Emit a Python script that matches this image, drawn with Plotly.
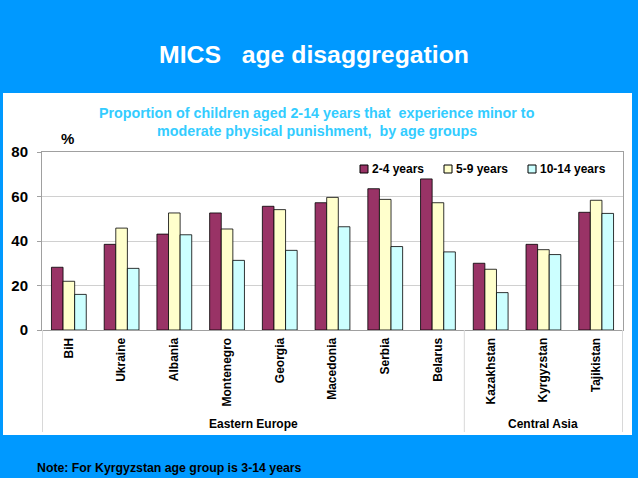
import plotly.graph_objects as go

countries = ["BiH", "Ukraine", "Albania", "Montenegro", "Georgia", "Macedonia",
             "Serbia", "Belarus", "Kazakhstan", "Kyrgyzstan", "Tajikistan"]
regions = ["Eastern Europe"] * 8 + ["Central Asia"] * 3
age_2_4 = [28.2, 38.5, 43.1, 52.6, 55.6, 57.2, 63.5, 67.9, 30.0, 38.5, 52.9]
age_5_9 = [21.9, 45.8, 52.6, 45.4, 54.1, 59.6, 58.7, 57.2, 27.3, 36.1, 58.3]
age_10_14 = [16.0, 27.7, 42.8, 31.3, 35.8, 46.4, 37.5, 35.1, 16.8, 33.9, 52.4]
series_names = ["2-4 years", "5-9 years", "10-14 years"]
series_colors = ["#993366", "#FFFFCC", "#CCFFFF"]
y_ticks = [0, 20, 40, 60, 80]

FONT = "Liberation Sans, Arial, sans-serif"
BLUE = "#0099FF"

fig = go.Figure()
for name, vals, col in zip(series_names, [age_2_4, age_5_9, age_10_14], series_colors):
    fig.add_trace(go.Bar(
        x=countries, y=vals, name=name,
        marker=dict(color=col, line=dict(color="#000000", width=0.8)),
    ))

W, H = 638, 478
L, R, T, B = 42, 15, 152, 148
plot_w = W - L - R
plot_h = H - T - B


def px(x):
    return (x - L) / plot_w


def py(y):
    return (H - B - y) / plot_h


fig.update_layout(
    width=W, height=H,
    margin=dict(l=L, r=R, t=T, b=B),
    paper_bgcolor=BLUE,
    plot_bgcolor="#FFFFFF",
    barmode="group",
    bargap=0.34,
    bargroupgap=0,
    font=dict(family=FONT, color="#000000"),
    showlegend=False,
    xaxis=dict(
        type="category",
        tickangle=-90,
        tickfont=dict(family=FONT, size=12, weight="bold", color="#000000"),
        showline=True, linecolor="#A0A0A0", linewidth=1, mirror=True,
        ticks="", showgrid=False, ticklabelstandoff=2,
    ),
    yaxis=dict(
        range=[0, 80],
        tickvals=y_ticks,
        tickfont=dict(family=FONT, size=15, weight="bold", color="#000000"),
        showline=True, linecolor="#A0A0A0", linewidth=1, mirror=True,
        showgrid=True, gridcolor="#D0D0D0", gridwidth=1,
        ticks="outside", ticklen=4, tickcolor="#A0A0A0", zeroline=False,
        ticklabelstandoff=6,
    ),
)

# white panel behind chart
fig.add_shape(type="rect", xref="paper", yref="paper",
              x0=px(3), x1=px(632), y0=py(435), y1=py(93),
              fillcolor="#FFFFFF", line=dict(width=0), layer="below")

# region separators / category axis extension
n_east = regions.count("Eastern Europe")
for xv in [-0.5, n_east - 0.5, len(countries) - 0.5]:
    fig.add_shape(type="line", xref="x", yref="paper", x0=xv, x1=xv,
                  y0=py(432), y1=0, line=dict(color="#D8D8D8", width=1))

# region labels
for reg in ["Eastern Europe", "Central Asia"]:
    idx = [i for i, r in enumerate(regions) if r == reg]
    fig.add_annotation(x=(idx[0] + idx[-1]) / 2, xref="x",
                       y=py(424), yref="paper", yanchor="middle",
                       text=reg, showarrow=False,
                       font=dict(family=FONT, size=12, weight="bold", color="#000000"))

# legend (square swatch right next to text, as in the original)
legend_x = [360, 444, 528]
legend_y = 169
for name, col, lx in zip(series_names, series_colors, legend_x):
    fig.add_shape(type="rect", xref="paper", yref="paper",
                  x0=px(lx), x1=px(lx + 8), y0=py(legend_y + 4), y1=py(legend_y - 4),
                  fillcolor=col, line=dict(color="#000000", width=1))
    fig.add_annotation(x=px(lx + 10), xref="paper", xanchor="left",
                       y=py(legend_y), yref="paper", yanchor="middle",
                       text=name, showarrow=False,
                       font=dict(family=FONT, size=12, weight="bold", color="#000000"))

# titles and notes
annos = [
    dict(text="MICS   age disaggregation", x=314, y=55, size=24.8, color="#FFFFFF"),
    dict(text="Proportion of children aged 2-14 years that  experience minor to",
         x=317, y=113, size=14.3, color="#33CCFF"),
    dict(text="moderate physical punishment,  by age groups",
         x=317, y=131, size=14.3, color="#33CCFF"),
    dict(text="%", x=67, y=138, size=15, color="#000000"),
]
for a in annos:
    fig.add_annotation(
        x=px(a["x"]), xref="paper",
        y=py(a["y"]), yref="paper",
        text=a["text"], showarrow=False, xanchor="center", yanchor="middle",
        font=dict(family=FONT, size=a["size"], weight="bold", color=a["color"]),
    )
fig.add_annotation(
    x=px(35), xref="paper", xanchor="left",
    y=py(468), yref="paper", yanchor="middle",
    text="Note: For Kyrgyzstan age group is 3-14 years", showarrow=False,
    font=dict(family=FONT, size=12.3, weight="bold", color="#000000"),
)

fig.write_html("out.html")
